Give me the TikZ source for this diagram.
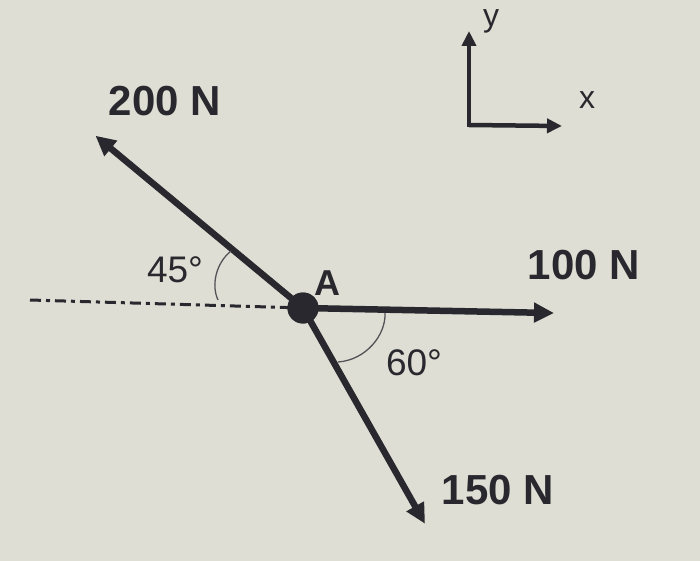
\documentclass[tikz,border=0pt]{standalone}
\usepackage{fontspec}
\setmainfont{Liberation Sans}
\usetikzlibrary{arrows.meta}
\definecolor{bg}{RGB}{222,222,212}
\definecolor{ink}{RGB}{40,40,46}
\tikzset{
  force/.style={draw=ink, line width=6.5pt, -{Triangle[length=20pt,width=19pt]}, shorten >=-2pt},
  axis/.style={draw=ink, line width=4.5pt, -{Triangle[length=15pt,width=14pt]}},
  lbl/.style={text=ink, font=\bfseries\fontsize{42}{42}\selectfont, inner sep=0pt},
  ang/.style={text=ink, font=\fontsize{37}{37}\selectfont, inner sep=0pt},
  arcline/.style={draw=ink!80, line width=1.3pt}
}
\begin{document}
\begin{tikzpicture}[x=1pt,y=-1pt]
\fill[bg] (0,0) rectangle (700,561);
\useasboundingbox (0,0) rectangle (700,561);
% reference line
\coordinate (L) at (30,300);
\node[circle, fill=ink, minimum size=31pt, inner sep=0pt] (A) at (303,308) {};
\draw[ink, line width=3pt, dash pattern=on 11pt off 5pt on 4pt off 5pt] (L) -- (A.center);
% forces
\coordinate (F200) at (97,137);
\coordinate (F100) at (552,313);
\coordinate (F150) at (424,522);
\draw[force] (A.center) -- (F200);
\draw[force] (A.center) -- (F100);
\draw[force] (A.center) -- (F150);
\fill[ink] (A) circle (15.5pt);
% angle arcs
\coordinate (a1) at (218,300);
\coordinate (a2) at (231,251);
\draw[arcline] (a1) .. controls (211,285) and (216,263) .. (a2);
\coordinate (b1) at (385,313);
\coordinate (b2) at (338,362);
\draw[arcline] (b1) .. controls (386,335) and (366,360) .. (b2);
% labels
\node[lbl] (t200) at (165,101) {200 N};
\node[lbl] (t100) at (584,265) {100 N};
\node[lbl] (t150) at (498,490) {150 N};
\node[lbl, font=\bfseries\fontsize{36}{36}\selectfont] (tA) at (327,283) {A};
\node[ang] (t45) at (175,270) {45°};
\node[ang] (t60) at (414,363) {60°};
% axes
\coordinate (O) at (469,125);
\coordinate (Y) at (469,31);
\coordinate (X) at (562,126);
\draw[axis] (O) -- (Y);
\draw[axis] (O) -- (X);
\draw[ink, line width=4.5pt] (466.8,125) -- (472,125);
\node[ang, font=\fontsize{32}{32}\selectfont] (ty) at (491,21) {y};
\node[ang, font=\fontsize{32}{32}\selectfont] (tx) at (587,100) {x};
\end{tikzpicture}
\end{document}
